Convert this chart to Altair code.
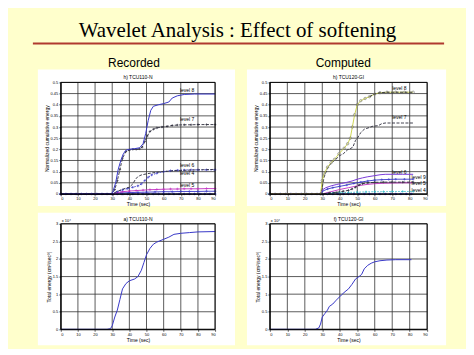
import altair as alt
import pandas as pd

BG = "#FFFFCC"
FONT = "Liberation Sans"

# ---------------- ticks ----------------
time_ticks = [0, 10, 20, 30, 40, 50, 60, 70, 80, 90]
norm_ticks = [0, 0.05, 0.1, 0.15, 0.2, 0.25, 0.3, 0.35, 0.4, 0.45, 0.5]
total_ticks = [0, 0.5, 1, 1.5, 2, 2.5, 3]

# ---------------- Recorded: h) TCU110-N (normalized cumulative energy) ----------------
rec_l8_t = [0, 29, 30, 32, 33.5, 35, 36.5, 38, 40, 43, 46, 48, 49.5, 51, 52.5, 54, 57, 60, 63, 65, 68, 72, 78, 90]
rec_l8_v = [0, 0, 0, 0.05, 0.11, 0.15, 0.18, 0.196, 0.2, 0.203, 0.207, 0.225, 0.27, 0.33, 0.375, 0.393, 0.4, 0.405, 0.412, 0.43, 0.44, 0.446, 0.448, 0.448]

rec_l7_t = [0, 30, 31.5, 33, 34.5, 36, 38, 40, 42, 44, 46, 47.5, 49, 50.5, 52, 54, 56, 59, 62, 65, 68, 72, 76, 80, 85, 90]
rec_l7_v = [0, 0, 0.02, 0.06, 0.11, 0.16, 0.19, 0.197, 0.2, 0.2, 0.202, 0.21, 0.235, 0.26, 0.28, 0.29, 0.296, 0.3, 0.303, 0.307, 0.309, 0.31, 0.31, 0.311, 0.311, 0.311]

rec_l6_t = [0, 30, 32, 35, 38, 40, 42, 43.5, 45, 47, 50, 53, 56, 60, 64, 68, 72, 76, 80, 85, 90]
rec_l6_v = [0, 0, 0.008, 0.018, 0.026, 0.03, 0.045, 0.065, 0.078, 0.085, 0.09, 0.094, 0.097, 0.1, 0.103, 0.105, 0.106, 0.107, 0.108, 0.109, 0.11]

rec_l4_t = [0, 30, 33, 36, 39, 42, 45, 47, 49, 51, 53, 56, 60, 64, 68, 72, 76, 80, 85, 90]
rec_l4_v = [0, 0, 0.01, 0.018, 0.024, 0.03, 0.036, 0.045, 0.06, 0.075, 0.085, 0.093, 0.1, 0.104, 0.106, 0.107, 0.108, 0.108, 0.108, 0.108]

rec_l5_t = [0, 30, 33, 36, 40, 44, 48, 52, 56, 60, 64, 68, 72, 76, 80, 85, 90]
rec_l5_v = [0, 0, 0.006, 0.01, 0.013, 0.015, 0.017, 0.019, 0.02, 0.021, 0.022, 0.022, 0.023, 0.023, 0.023, 0.024, 0.024]

rec_l3_t = [0, 30, 35, 40, 45, 50, 55, 60, 65, 70, 75, 80, 85, 90]
rec_l3_v = [0, 0, 0.004, 0.006, 0.007, 0.008, 0.009, 0.01, 0.01, 0.011, 0.011, 0.011, 0.012, 0.012]

rec_base_t = [0, 3, 6, 9, 12, 15, 18, 21, 24, 27, 30, 33, 36, 39, 42, 45, 48, 51, 54, 57, 60, 63, 66, 69, 72, 75, 78, 81, 84, 87, 90]
rec_base_v = [0] * len(rec_base_t)

rec_label_text = ["level 8", "level 7", "level 6", "level 4", "level 5"]
rec_label_t = [69.5, 69.5, 69.5, 69.5, 69.5]
rec_label_v = [0.466, 0.336, 0.129, 0.093, 0.04]

# ---------------- Computed: h) TCU120-GI ----------------
comp_l8_t = [0, 29, 30, 31, 33, 35, 37, 39.5, 42.5, 44.5, 46, 47.2, 48.5, 50, 52, 54.5, 57, 60, 63, 67, 72, 77, 82]
comp_l8_v = [0, 0, 0.06, 0.09, 0.12, 0.14, 0.155, 0.18, 0.205, 0.225, 0.25, 0.3, 0.355, 0.4, 0.418, 0.428, 0.436, 0.448, 0.454, 0.456, 0.456, 0.456, 0.456]

comp_l7_t = [0, 29, 30, 31, 33, 35, 37, 40, 42, 44.5, 46, 47.5, 49, 50.5, 52, 54, 57, 59, 62, 64, 66, 70, 76, 82]
comp_l7_v = [0, 0, 0.03, 0.075, 0.115, 0.138, 0.15, 0.172, 0.18, 0.198, 0.203, 0.21, 0.24, 0.255, 0.275, 0.29, 0.298, 0.304, 0.306, 0.315, 0.318, 0.318, 0.318, 0.318]

comp_l6_t = [0, 29, 30, 32, 35, 38, 41, 44, 47, 50, 53, 56, 60, 63, 66, 70, 76, 82]
comp_l6_v = [0, 0, 0.018, 0.028, 0.036, 0.042, 0.047, 0.052, 0.058, 0.066, 0.072, 0.077, 0.082, 0.086, 0.088, 0.088, 0.088, 0.088]

comp_l9_t = [0, 29, 30, 33, 36, 40, 44, 48, 52, 56, 60, 64, 68, 72, 77, 82]
comp_l9_v = [0, 0, 0.012, 0.022, 0.028, 0.034, 0.04, 0.047, 0.053, 0.058, 0.062, 0.064, 0.065, 0.066, 0.066, 0.066]

comp_l5_t = [0, 30, 34, 38, 42, 45, 47, 49, 51, 53, 56, 60, 65, 70, 76, 82]
comp_l5_v = [0, 0, 0.004, 0.007, 0.012, 0.016, 0.022, 0.03, 0.04, 0.046, 0.05, 0.052, 0.053, 0.053, 0.053, 0.053]

comp_mg_t = [0, 30, 35, 40, 45, 50, 55, 60, 65, 70, 76, 82]
comp_mg_v = [0, 0, 0.01, 0.02, 0.028, 0.036, 0.042, 0.046, 0.048, 0.049, 0.05, 0.05]

comp_l4_t = [0, 30, 33, 36, 40, 45, 50, 55, 60, 65, 70, 76, 82]
comp_l4_v = [0, 0, 0.003, 0.005, 0.006, 0.007, 0.008, 0.009, 0.01, 0.01, 0.011, 0.011, 0.011]

comp_base_t = [0, 3, 6, 9, 12, 15, 18, 21, 24, 27, 30, 33, 36, 39, 42, 45, 48, 51, 54, 57, 60, 63, 66, 69, 72, 75, 78, 81]
comp_base_v = [0] * len(comp_base_t)

comp_label_text = ["level 8", "level 7", "level 6", "level 9", "level 5", "level 4"]
comp_label_t = [70, 70, 70, 81, 81, 81]
comp_label_v = [0.473, 0.345, 0.1, 0.074, 0.049, 0.018]

# ---------------- Total energy (x 10^4) ----------------
rec_tot_t = [0, 27, 29, 30, 31.5, 33, 34.5, 36, 38, 40, 43, 45, 47, 48.5, 50, 52, 54, 56, 60, 63, 66, 70, 75, 80, 90]
rec_tot_v = [0, 0, 0.02, 0.1, 0.35, 0.55, 0.85, 1.15, 1.3, 1.38, 1.43, 1.5, 1.68, 1.9, 2.12, 2.3, 2.42, 2.48, 2.56, 2.62, 2.7, 2.73, 2.75, 2.77, 2.78]

comp_tot_t = [0, 26, 28, 29, 30, 31.5, 33, 34, 36, 38, 41, 43, 45, 47, 49, 51, 52.5, 54, 56, 58, 60, 63, 67, 72, 81]
comp_tot_v = [0, 0, 0.04, 0.15, 0.35, 0.45, 0.55, 0.65, 0.72, 0.83, 0.98, 1.07, 1.15, 1.28, 1.43, 1.5, 1.56, 1.72, 1.82, 1.88, 1.92, 1.95, 1.97, 1.98, 1.98]

# ---------------- styling helpers ----------------
PLUS = "M-1,0L1,0M0,-1L0,1"
STAR = "M-1,0L1,0M0,-1L0,1M-0.7,-0.7L0.7,0.7M-0.7,0.7L0.7,-0.7"
BLUE = "#3838c8"
DARK = "#2a2a3a"
GRID = "#333333"
ONE = pd.DataFrame({"k": [0]})


def enc_x():
    return alt.X("t:Q", scale=alt.Scale(domain=[0, 90], nice=False, zero=False),
                 axis=alt.Axis(values=time_ticks, title="Time (sec)", format="d", grid=False,
                               zindex=1, labelOverlap=False))


def enc_y(ymax, ticks, title):
    return alt.Y("v:Q", scale=alt.Scale(domain=[0, ymax], nice=False, zero=False),
                 axis=alt.Axis(values=ticks, title=title, format="~g", grid=False,
                               zindex=1, labelOverlap=False))


def fixed_text(txt, x, y, size, font=FONT, align="center"):
    return alt.Chart(ONE).mark_text(text=txt, font=font, fontSize=size, align=align,
                                    baseline="alphabetic", color="black").encode(
        x=alt.value(x), y=alt.value(y))


def fixed_rect(x, x2, y, y2, **kw):
    return alt.Chart(ONE).mark_rect(**kw).encode(
        x=alt.value(x), x2=alt.value(x2), y=alt.value(y), y2=alt.value(y2))


def series_layers(specs, X, Y):
    out = []
    for s in specs:
        df = pd.DataFrame({"t": s["t"], "v": s["v"]})
        if "from_t" in s:
            df = df[df["t"] >= s["from_t"]]
        kw = {"color": s["color"], "strokeWidth": s.get("width", 0.9)}
        if s.get("dash"):
            kw["strokeDash"] = s["dash"]
        out.append(alt.Chart(df).mark_line(**kw).encode(x=X, y=Y))
        if s.get("marker"):
            out.append(alt.Chart(df).mark_point(shape=s["marker"], size=s.get("msize", 8), filled=False,
                                                color=s.get("mcolor", s["color"]), strokeWidth=0.6,
                                                opacity=1).encode(x=X, y=Y))
    return out


def panel(w, h, ymax, yticks, ytitle, title, specs, frame, labels=None, before=(), after=()):
    X = enc_x()
    Y = enc_y(ymax, yticks, ytitle)
    layers = list(before)
    layers.append(fixed_rect(frame[0], frame[1], frame[2], frame[3], color="white"))
    layers.append(alt.Chart(pd.DataFrame({"t": time_ticks})).mark_rule(color=GRID, strokeWidth=0.8).encode(x=X))
    layers.append(alt.Chart(pd.DataFrame({"v": yticks})).mark_rule(color=GRID, strokeWidth=0.8).encode(y=Y))
    if labels is not None:
        ldf = pd.DataFrame({"t": labels[0], "v": labels[1], "txt": labels[2]})
        layers.append(alt.Chart(ldf).mark_text(align="left", baseline="middle", fontSize=5, font=FONT,
                                               color="black").encode(x=X, y=Y, text="txt:N"))
    layers += series_layers(specs, X, Y)
    layers.append(fixed_rect(0, w, 0, h, fillOpacity=0, stroke="black", strokeWidth=0.9))
    layers.append(fixed_text(title, w / 2, -3, 5))
    layers += list(after)
    return alt.layer(*layers).properties(width=w, height=h)


WL, WR, HT, HB = 155, 158, 112, 106

rec_specs = [
    dict(t=rec_base_t, v=rec_base_v, color=BLUE, dash=[2, 1.5], marker=STAR, msize=7),
    dict(t=rec_l3_t, v=rec_l3_v, color=BLUE, marker=PLUS, msize=7),
    dict(t=rec_l5_t, v=rec_l5_v, color="#c030c0", marker=PLUS, msize=7),
    dict(t=rec_l4_t, v=rec_l4_v, color=BLUE, dash=[1.5, 1.5], marker=PLUS, msize=7),
    dict(t=rec_l6_t, v=rec_l6_v, color=DARK, dash=[3, 1.5]),
    dict(t=rec_l7_t, v=rec_l7_v, color=DARK, dash=[3, 1.5], marker=PLUS, msize=6),
    dict(t=rec_l8_t, v=rec_l8_v, color=BLUE, width=1.0),
]

comp_specs = [
    dict(t=comp_base_t, v=comp_base_v, color=BLUE, dash=[2, 1.5], marker=STAR, msize=7),
    dict(t=comp_l4_t, v=comp_l4_v, color="#30b8c8", dash=[1.5, 1.5], marker=PLUS, msize=7),
    dict(t=comp_mg_t, v=comp_mg_v, color="#c030c0"),
    dict(t=comp_l5_t, v=comp_l5_v, color=DARK, dash=[3, 1.5], marker=PLUS, msize=6),
    dict(t=comp_l9_t, v=comp_l9_v, color=BLUE, marker=PLUS, msize=6),
    dict(t=comp_l6_t, v=comp_l6_v, color="#7a3ad8", width=1.0),
    dict(t=comp_l7_t, v=comp_l7_v, color=DARK, dash=[3, 1.5]),
    dict(t=comp_l8_t, v=comp_l8_v, color="#c8d040", marker="circle", mcolor="#777777", msize=6),
    dict(t=comp_l8_t, v=comp_l8_v, color=DARK, dash=[3, 1.5], from_t=57),
]

header = [
    fixed_rect(-52, 406, -73, 266, color=BG),
    fixed_text("Wavelet Analysis : Effect of softening", 177.5, -46, 21, font="Liberation Serif"),
    alt.Chart(ONE).mark_rule(color="#B03A2E", strokeWidth=2).encode(
        x=alt.value(-28), x2=alt.value(385), y=alt.value(-39)),
    fixed_text("Recorded", 73.5, -15.5, 12),
]

tl = panel(WL, HT, 0.5, norm_ticks, "Normalized cumulative energy", "h) TCU110-N", rec_specs,
           (-23, WL + 20, -13, HT + 12),
           labels=(rec_label_t, rec_label_v, rec_label_text), before=header)

tr = panel(WR, HT, 0.5, norm_ticks, "Normalized cumulative energy", "h) TCU120-GI", comp_specs,
           (-23, WR + 19, -13, HT + 12),
           labels=(comp_label_t, comp_label_v, comp_label_text),
           before=[fixed_text("Computed", 73.7, -15.5, 12)])

bl = panel(WL, HB, 3, total_ticks, "Total energy (cm²/sec³)", "a) TCU110-N",
           [dict(t=rec_tot_t, v=rec_tot_v, color=BLUE, width=1.0)],
           (-23, WL + 20, -11, HB + 16),
           after=[fixed_text("x 10⁴", 1, -2, 4, align="left")])

br = panel(WR, HB, 3, total_ticks, "Total energy (cm²/sec³)", "f) TCU120-GI",
           [dict(t=comp_tot_t, v=comp_tot_v, color=BLUE, width=1.0)],
           (-23, WR + 19, -11, HB + 16),
           after=[fixed_text("x 10⁴", 1, -2, 4, align="left")])

chart = alt.concat(tl, tr, bl, br, columns=2, spacing={"row": 30, "column": 55},
                   bounds="flush", align="each").properties(
    padding=0, background=BG
).configure_view(stroke="transparent").configure_axis(
    labelFont=FONT, labelFontSize=4, labelColor="black", labelPadding=1,
    titleFont=FONT, titleFontSize=5, titleFontWeight="normal", titleColor="black", titlePadding=1,
    domainColor="black", domainWidth=0.8, tickColor="black", tickSize=2, tickWidth=0.6,
)

chart.save("out.html", embed_options={"renderer": "svg", "actions": False})
